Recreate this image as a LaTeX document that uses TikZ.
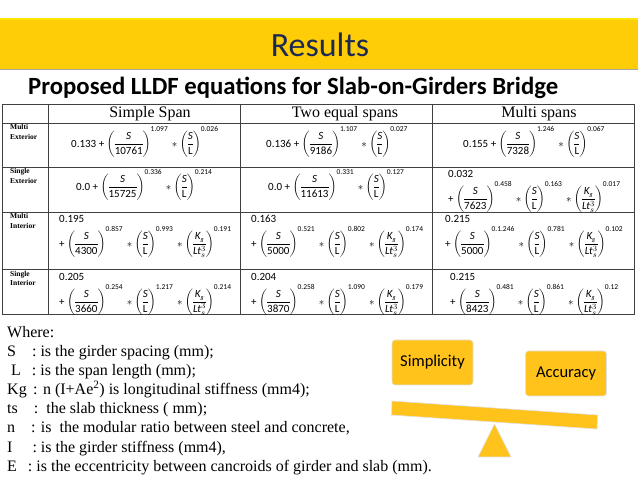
\documentclass[tikz,border=0pt]{standalone}
\usepackage{amsmath}
\usepackage{fontspec}
\setmainfont{Liberation Serif}
\newfontfamily\carl{Carlito}
\definecolor{barcol}{HTML}{FFCC08}
\definecolor{boxcol}{HTML}{FFC31C}
\definecolor{titlecol}{HTML}{1C2A52}
\nulldelimiterspace=0pt
\newcommand{\xpn}[1]{^{\hbox{\carl\fontsize{7.5}{8}\selectfont\raisebox{3pt}{#1}}}}
\newcommand{\fac}[3]{\left(\dfrac{\hbox{\carl\itshape #1}}{\hbox{\carl #2}}\right)\xpn{#3}}
\newcommand{\kgf}[1]{\left(\dfrac{\hbox{\carl\itshape K}_{\hbox{\carl\itshape\fontsize{6}{6}\selectfont g}}}{\hbox{\carl\itshape Lt}_{s}^{3}}\right)\xpn{#1}}
\newcommand{\tms}{\mskip3mu{*}\mskip1mu}
\tikzset{
  eqn/.style={anchor=west,inner sep=0pt,font=\carl\fontsize{11}{13}\selectfont},
  head/.style={inner sep=0pt,font=\fontsize{16}{18}\selectfont},
  rowlab/.style={anchor=north west,inner sep=0pt,align=left,font=\bfseries\fontsize{7.5}{9.5}\selectfont},
  wline/.style={anchor=base west,inner sep=0pt,font=\fontsize{16}{18}\selectfont},
  tradeoff/.style={draw=black!12,line width=0.6pt,fill=boxcol},
  choice/.style={tradeoff,rounded corners=3pt,minimum width=81pt,minimum height=45pt,inner sep=0pt,text=black,font=\carl\fontsize{16.5}{18}\selectfont}
}
\begin{document}
\begin{tikzpicture}[x=1pt,y=-1pt]
\useasboundingbox (0,0) rectangle (638,478);
% title bar
\fill[black!35] (0,69) rectangle (638,70.5);
\node (bar) at (319,43.5) [fill=barcol,minimum width=638pt,minimum height=51pt,inner sep=0pt,outer sep=0pt] {};
\fill[yellow!70!barcol] (0,18) rectangle (638,20);
\node (title) at (320,45) [inner sep=0pt,text=titlecol,font=\carl\fontsize{34}{36}\selectfont] {Results};
\node (subtitle) at (28,88) [anchor=west,inner sep=0pt,font=\carl\bfseries\fontsize{24.75}{26}\selectfont] {Proposed LLDF equations for Slab-on-Girders Bridge};
% table grid
\draw[black!75,line width=0.9pt] (2,104) rectangle (634.5,314);
\foreach \yy in {123.5,167,212.5,269} \draw[black!75,line width=0.9pt] (2,\yy) -- (634.5,\yy);
\foreach \xx in {48,240,432} \draw[black!75,line width=0.9pt] (\xx,104) -- (\xx,314);
% headers
\node (h1) at (150,114) [head] {Simple Span};
\node (h2) at (345,114) [head] {Two equal spans};
\node (h3) at (539,114) [head] {Multi spans};
% row labels
\node (r1) at (10,124.5) [rowlab] {Multi\\Exterior};
\node (r2) at (10,168.5) [rowlab] {Single\\Exterior};
\node (r3) at (10,213.5) [rowlab] {Multi\\Interior};
\node (r4) at (10,271) [rowlab] {Single\\Interior};
% first row
\node (e11) at (71,142) [eqn] {0.133 + $\fac{S}{10761}{1.097}\tms\fac{S}{L}{0.026}$};
\node (e12) at (266,142) [eqn] {0.136 + $\fac{S}{9186}{1.107}\tms\fac{S}{L}{0.027}$};
\node (e13) at (463,142) [eqn] {0.155 + $\fac{S}{7328}{1.246}\tms\fac{S}{L}{0.067}$};
% second row
\node (e21) at (76,185) [eqn] {0.0 + $\fac{S}{15725}{0.336}\tms\fac{S}{L}{0.214}$};
\node (e22) at (268,185) [eqn] {0.0 + $\fac{S}{11613}{0.331}\tms\fac{S}{L}{0.127}$};
\node (c23) at (448,174) [eqn] {0.032};
\node (e23) at (448,197) [eqn] {+ $\fac{S}{7623}{0.458}\tms\fac{S}{L}{0.163}\tms\kgf{0.017}$};
% third row
\node (c31) at (59,219) [eqn] {0.195};
\node (e31) at (59,242) [eqn] {+ $\fac{S}{4300}{0.857}\tms\fac{S}{L}{0.993}\tms\kgf{0.191}$};
\node (c32) at (251,219) [eqn] {0.163};
\node (e32) at (251,242) [eqn] {+ $\fac{S}{5000}{0.521}\tms\fac{S}{L}{0.802}\tms\kgf{0.174}$};
\node (c33) at (445,219) [eqn] {0.215};
\node (e33) at (445,242) [eqn] {+ $\fac{S}{5000}{0.1.246}\tms\fac{S}{L}{0.781}\tms\kgf{0.102}$};
% fourth row
\node (c41) at (59,277) [eqn] {0.205};
\node (e41) at (59,300) [eqn] {+ $\fac{S}{3660}{0.254}\tms\fac{S}{L}{1.217}\tms\kgf{0.214}$};
\node (c42) at (251,277) [eqn] {0.204};
\node (e42) at (251,300) [eqn] {+ $\fac{S}{3870}{0.258}\tms\fac{S}{L}{1.090}\tms\kgf{0.179}$};
\node (c43) at (450,277) [eqn] {0.215};
\node (e43) at (450,300) [eqn] {+ $\fac{S}{8423}{0.481}\tms\fac{S}{L}{0.861}\tms\kgf{0.12}$};
% notation list
\node (w0) at (7,337.5) [wline] {Where:};
\node (w1) at (7,357) [wline] {S\hspace{16pt}: is the girder spacing (mm);};
\node (w2) at (7,376) [wline] {\hspace{4pt}L\hspace{11pt}: is the span length (mm);};
\node (w3) at (7,395) [wline] {Kg\hspace{6.5pt}: n (I+Ae\textsuperscript{2}) is longitudinal stiffness (mm4);};
\node (w4) at (7,414) [wline] {ts\hspace{16pt}:\ \ the slab thickness ( mm);};
\node (w5) at (7,433) [wline] {n\hspace{16pt}: is\ \ the modular ratio between steel and concrete,};
\node (w6) at (7,452.5) [wline] {I\hspace{20pt}: is the girder stiffness (mm4),};
\node (w7) at (7,471.5) [wline] {E\hspace{11pt}: is the eccentricity between cancroids of girder and slab (mm).};
% balance
\node (simp) at (432.5,362.5) [choice] {Simplicity};
\node (accu) at (566,373.5) [choice] {Accuracy};
\draw[tradeoff] (392,401) -- (597.5,415) -- (597,429) -- (391.5,415) -- cycle;
\draw[tradeoff] (494.5,424) -- (511,457) -- (478,457) -- cycle;
\end{tikzpicture}
\end{document}
